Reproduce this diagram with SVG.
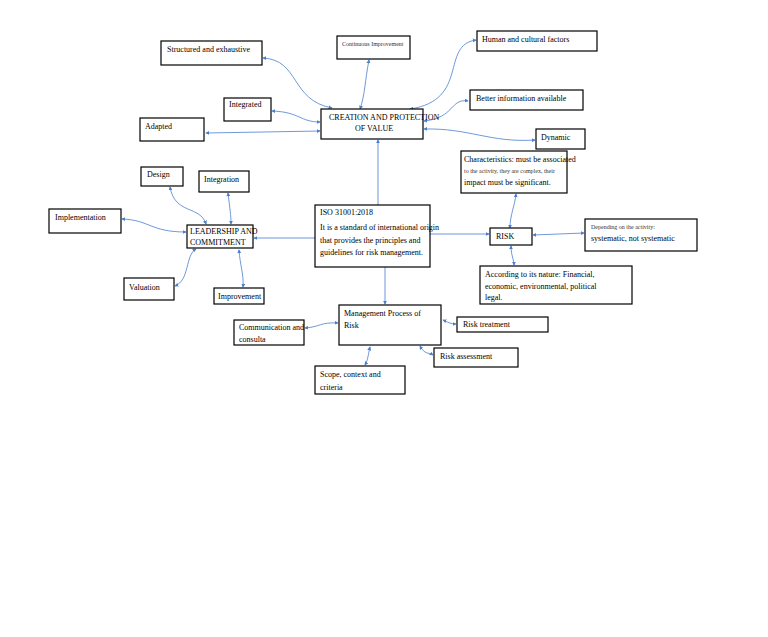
<svg xmlns="http://www.w3.org/2000/svg" width="768" height="637" viewBox="0 0 768 637">
<style>
rect{fill:#fff;stroke:#000;stroke-width:1.2}
text{font-family:"Liberation Serif",serif;font-size:8px;fill:#000}
.s{font-size:6px;fill:#333}
#conn path{fill:none;stroke:#4a7fcf;stroke-width:0.8}
</style>
<defs>
<marker id="a" viewBox="0 0 6 6" refX="5" refY="3" markerWidth="5" markerHeight="5" orient="auto-start-reverse"><path d="M0,0 L6,3 L0,6 z" fill="#4a7fcf"/></marker>
</defs>
<rect x="0" y="0" width="768" height="637" style="stroke:none"/>
<g id="conn">
<path d="M263,58 C300,60 290,100 332,108" marker-start="url(#a)" marker-end="url(#a)"/>
<path d="M369,60 C365,80 365,95 360,109" marker-start="url(#a)" marker-end="url(#a)"/>
<path d="M410,109 C470,100 440,45 476,40" marker-start="url(#a)" marker-end="url(#a)"/>
<path d="M272,111 C300,112 300,122 320,122" marker-start="url(#a)" marker-end="url(#a)"/>
<path d="M206,133 L320,131" marker-start="url(#a)" marker-end="url(#a)"/>
<path d="M424,121 C455,118 450,98 468,101" marker-start="url(#a)" marker-end="url(#a)"/>
<path d="M424,129 C470,128 490,143 535,140" marker-start="url(#a)" marker-end="url(#a)"/>
<path d="M378,205 L378,140" marker-end="url(#a)"/>
<path d="M315,238 L254,238" marker-end="url(#a)"/>
<path d="M430,234 L489,234" marker-end="url(#a)"/>
<path d="M385,267 L385,304" marker-end="url(#a)"/>
<path d="M516,194 C515,205 510,215 510,228" marker-start="url(#a)" marker-end="url(#a)"/>
<path d="M533,235 L584,233" marker-start="url(#a)" marker-end="url(#a)"/>
<path d="M511,246 C511,255 514,260 514,265" marker-start="url(#a)" marker-end="url(#a)"/>
<path d="M170,187 C175,215 200,205 206,224" marker-start="url(#a)" marker-end="url(#a)"/>
<path d="M228,193 C230,210 231,215 231,224" marker-start="url(#a)" marker-end="url(#a)"/>
<path d="M122,219 C150,220 150,232 186,232" marker-start="url(#a)" marker-end="url(#a)"/>
<path d="M175,286 C190,280 185,255 196,249" marker-start="url(#a)" marker-end="url(#a)"/>
<path d="M239,250 C240,265 244,275 243,287" marker-start="url(#a)" marker-end="url(#a)"/>
<path d="M305,328 C320,327 320,322 338,323" marker-start="url(#a)" marker-end="url(#a)"/>
<path d="M443,320 C448,322 450,324 456,324" marker-start="url(#a)" marker-end="url(#a)"/>
<path d="M420,346 C425,355 428,352 433,355" marker-start="url(#a)" marker-end="url(#a)"/>
<path d="M370,347 C368,355 368,360 365,365" marker-start="url(#a)" marker-end="url(#a)"/>
</g>
<g id="structured"><rect x="161" y="41" width="101" height="24"/><text x="167" y="52">Structured and exhaustive</text></g>
<g id="continuous"><rect x="337" y="36" width="73" height="23"/><text class="s" x="342" y="46">Continuous Improvement</text></g>
<g id="human"><rect x="477" y="31" width="120" height="20"/><text x="482" y="42">Human and cultural factors</text></g>
<g id="integrated"><rect x="224" y="98" width="47" height="23"/><text x="229" y="107">Integrated</text></g>
<g id="better"><rect x="470" y="90" width="113" height="20"/><text x="476" y="101">Better information available</text></g>
<g id="creation"><rect x="321" y="109" width="102" height="30"/><text x="329" y="120">CREATION AND PROTECTION</text><text x="355" y="131">OF VALUE</text></g>
<g id="adapted"><rect x="140" y="118" width="64" height="23"/><text x="145" y="129">Adapted</text></g>
<g id="dynamic"><rect x="536" y="129" width="49" height="20"/><text x="541" y="140">Dynamic</text></g>
<g id="characteristics"><rect x="461" y="151" width="106" height="42"/><text x="464" y="162">Characteristics: must be associated</text><text class="s" x="464" y="173">to the activity, they are complex, their</text><text x="464" y="185">impact must be significant.</text></g>
<g id="design"><rect x="141" y="167" width="42" height="19"/><text x="147" y="177">Design</text></g>
<g id="integration"><rect x="199" y="171" width="50" height="21"/><text x="204" y="182">Integration</text></g>
<g id="implementation"><rect x="49" y="209" width="72" height="24"/><text x="55" y="220">Implementation</text></g>
<g id="iso"><rect x="315" y="205" width="115" height="62"/><text x="320" y="215">ISO 31001:2018</text><text x="320" y="230">It is a standard of international origin</text><text x="320" y="243">that provides the principles and</text><text x="320" y="255">guidelines for risk management.</text></g>
<g id="leadership"><rect x="187" y="225" width="66" height="23"/><text x="190" y="234">LEADERSHIP AND</text><text x="190" y="245">COMMITMENT</text></g>
<g id="risk"><rect x="490" y="228" width="42" height="17"/><text x="496" y="239">RISK</text></g>
<g id="depending"><rect x="585" y="219" width="112" height="32"/><text class="s" x="591" y="229">Depending on the activity:</text><text x="591" y="241">systematic, not systematic</text></g>
<g id="according"><rect x="480" y="266" width="152" height="38"/><text x="485" y="277">According to its nature: Financial,</text><text x="485" y="289">economic, environmental, political</text><text x="485" y="300">legal.</text></g>
<g id="valuation"><rect x="124" y="278" width="50" height="22"/><text x="129" y="290">Valuation</text></g>
<g id="improvement"><rect x="214" y="288" width="50" height="16"/><text x="218" y="299">Improvement</text></g>
<g id="management"><rect x="339" y="305" width="102" height="40"/><text x="344" y="316">Management Process of</text><text x="344" y="328">Risk</text></g>
<g id="treatment"><rect x="457" y="317" width="91" height="15"/><text x="463" y="327">Risk treatment</text></g>
<g id="communication"><rect x="234" y="320" width="70" height="25"/><text x="239" y="330">Communication and</text><text x="239" y="342">consulta</text></g>
<g id="assessment"><rect x="434" y="348" width="84" height="19"/><text x="440" y="359">Risk assessment</text></g>
<g id="scope"><rect x="315" y="366" width="90" height="28"/><text x="320" y="377">Scope, context and</text><text x="320" y="390">criteria</text></g>
</svg>
